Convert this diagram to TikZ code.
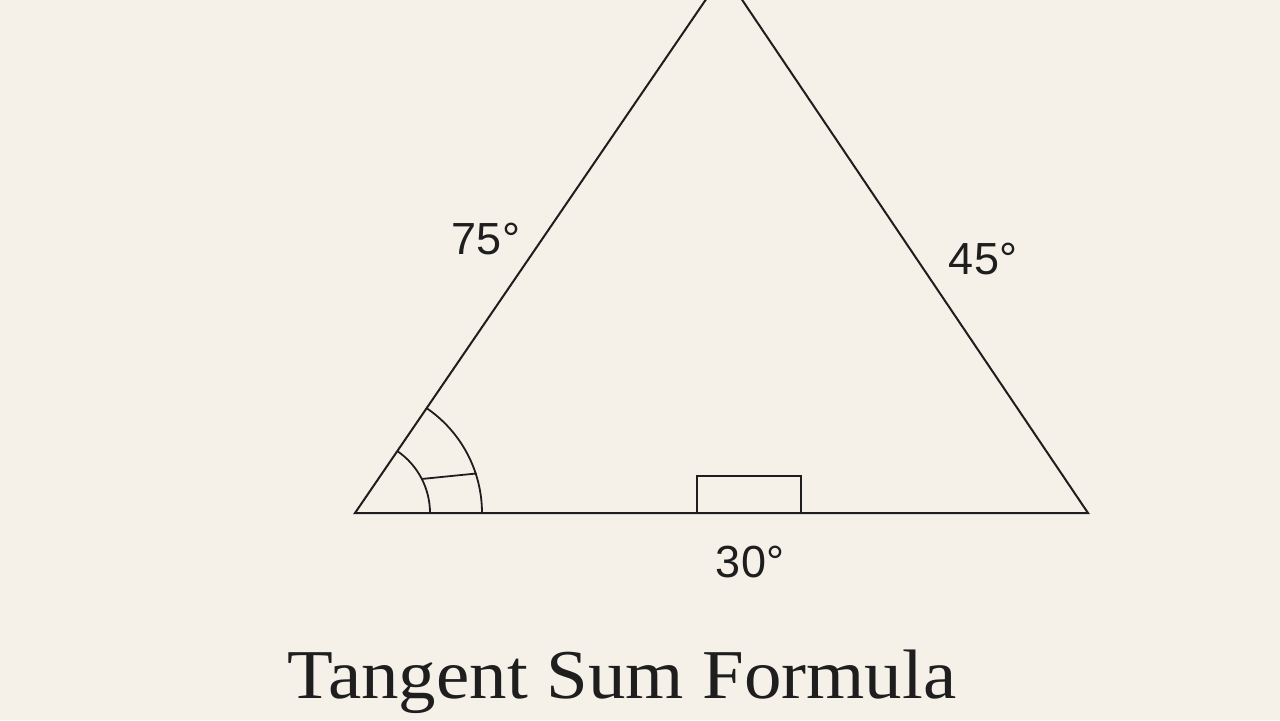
\documentclass[tikz,border=0pt]{standalone}
\usepackage{fontspec}
\usetikzlibrary{calc}
\setmainfont{Liberation Serif}
\newfontfamily\labelfont{Liberation Sans}
\definecolor{bgcol}{HTML}{F5F1E8}
\definecolor{inkcol}{HTML}{1E1E1E}
\begin{document}
\begin{tikzpicture}[x=0.5pt,y=-0.5pt,
  edge/.style={draw=inkcol,line width=1pt,line join=miter},
  anglemark/.style={draw=inkcol,line width=0.9pt},
  anglab/.style={anchor=base,inner sep=0pt,text=inkcol,font=\labelfont\fontsize{22.5pt}{27pt}\selectfont},
  titlelab/.style={anchor=base,inner sep=0pt,text=inkcol,xscale=1.07,font=\fontsize{35pt}{42pt}\selectfont}]
\useasboundingbox (0,0) rectangle (1280,720);
\fill[bgcol] (0,0) rectangle (1280,720);
\clip (0,0) rectangle (1280,720);
\coordinate (A) at (355,513);
\coordinate (B) at (1088,513);
\coordinate (C) at (724,-27);
\draw[edge] (A) -- (B) -- (C) -- cycle;
% angle marks
\draw[anglemark] ($(A)+(75,0)$) arc[start angle=0,end angle=-55.6,radius=75];
\draw[anglemark] ($(A)+(127,0)$) arc[start angle=0,end angle=-55.6,radius=127];
\coordinate (m1) at ($(A)+(-27:75)$);
\coordinate (m2) at ($(A)+(-18:128)$);
\draw[anglemark] (m1) -- (m2);
% small rectangle on the base
\coordinate (r1) at (697,513);
\coordinate (r2) at (801,476);
\draw[anglemark] (r1) |- (r2) -- (r2 |- r1);
% labels
\node[anglab] (l75) at (486,254) {75°};
\node[anglab] (l45) at (983,274) {45°};
\node[anglab] (l30) at (750,577) {30°};
\node[titlelab] (title) at (622,698) {Tangent Sum Formula};
\end{tikzpicture}
\end{document}
